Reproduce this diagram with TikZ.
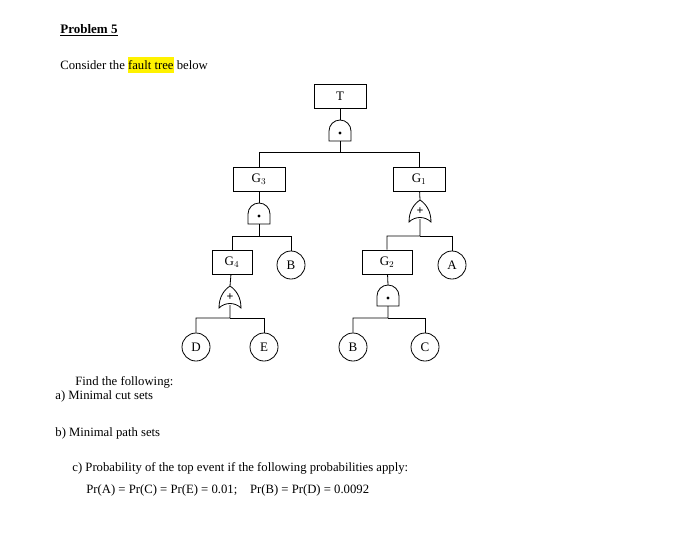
\documentclass[tikz,border=0pt]{standalone}
\usepackage{fontspec}
\setmainfont{Liberation Serif}
\begin{document}
\begin{tikzpicture}[x=1pt,y=-1pt,thick,
  ev/.style={draw,minimum width=52pt,minimum height=24pt,inner sep=0pt,font=\fontsize{13}{13}\selectfont},
  ci/.style={draw,circle,minimum size=28pt,inner sep=0pt,font=\fontsize{13}{13}\selectfont},
  txt/.style={anchor=west,inner sep=0pt,font=\fontsize{12.7}{14}\selectfont},
  andg/.pic={\draw (-11,10) -- (-11,0) arc[start angle=180,end angle=360,radius=11] -- (11,10) -- cycle; \fill (0,2) circle (1.6pt);},
  org/.pic={\draw (-11,11) .. controls (-11,0) and (-6,-7) .. (0,-11) .. controls (6,-7) and (11,0) .. (11,11) .. controls (5,5) and (-5,5) .. (-11,11) -- cycle; \node[font=\fontsize{12}{12}\selectfont\bfseries,inner sep=0pt] at (0,0) {+};}]
\useasboundingbox (0,0) rectangle (700,536);
\node[txt,font=\bfseries\fontsize{13}{13}\selectfont] (p) at (60,30) {\underline{Problem 5}};
\node[txt] (c) at (60,65) {Consider the \colorbox{yellow}{\hspace{-3pt}fault tree\hspace{-3pt}} below};
\node[ev] (T) at (340,96) {T};
\node[ev] (G3) at (259,179) {G$_3$};
\node[ev] (G1) at (419,179) {G$_1$};
\node[ev,minimum width=40pt] (G4) at (232,262) {G$_4$};
\node[ev,minimum width=50pt] (G2) at (387,262) {G$_2$};
\node[ci] (B1) at (291,265) {B};
\node[ci] (A) at (452,265) {A};
\node[ci] (D) at (196,347) {D};
\node[ci] (E) at (264,347) {E};
\node[ci] (B2) at (353,347) {B};
\node[ci] (C) at (425,347) {C};
\pic at (340,131) {andg};
\pic at (259,214) {andg};
\pic at (420,211) {org};
\pic at (230,297) {org};
\pic at (388,296) {andg};
\draw (T) -- (340,120) (340,141) -- (340,152) -| (G3); \draw (340,152) -| (G1);
\draw (G3) -- (259,203) (259,224) -- (259,236) -| (G4); \draw (259,236) -| (B1);
\draw (G1) -- (420,200) (420,219) -- (420,236) -| (G2); \draw (420,236) -| (A);
\draw (G4) -- (230,286) (230,305) -- (230,318) -| (D); \draw (230,318) -| (E);
\draw (G2) -- (388,285) (388,306) -- (388,318) -| (B2); \draw (388,318) -| (C);
\node[txt] (f) at (75,382) {Find the following:};
\node[txt] (a) at (55,396) {a) Minimal cut sets};
\node[txt] (b) at (55,433) {b) Minimal path sets};
\node[txt] (cc) at (72,468) {c) Probability of the top event if the following probabilities apply:};
\node[txt] (pr) at (86,490) {Pr(A) = Pr(C) = Pr(E) = 0.01;\quad Pr(B) = Pr(D) = 0.0092};
\end{tikzpicture}
\end{document}
